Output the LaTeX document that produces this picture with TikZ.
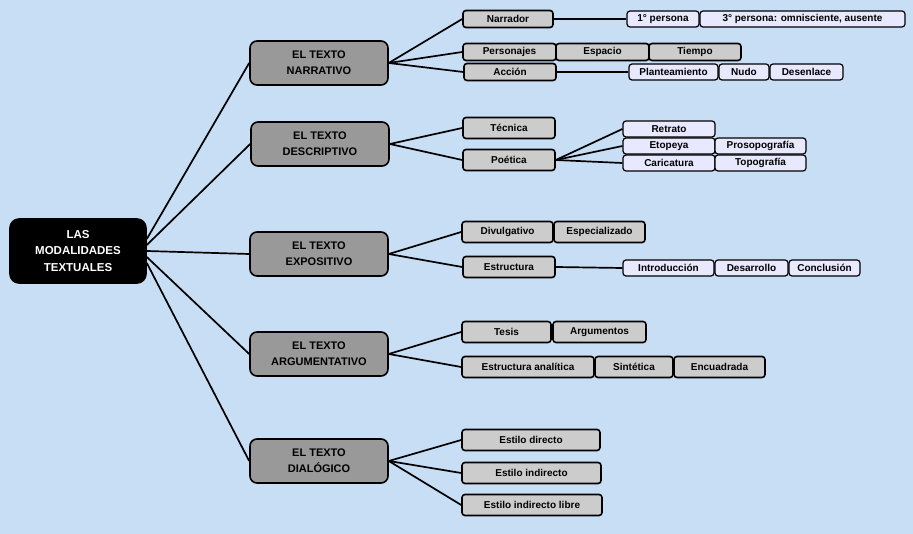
\documentclass[tikz,border=0pt]{standalone}
\usepackage{fontspec}
\setmainfont{Liberation Sans}
\definecolor{bgc}{RGB}{200,222,245}
\definecolor{lav}{RGB}{232,232,255}
\begin{document}
\begin{tikzpicture}[x=1pt,y=-1pt,
 base/.style={draw=black,line width=1.6pt,rounded corners=3pt,inner sep=0pt,font=\bfseries\fontsize{10}{10}\selectfont,text=black},
 g/.style={base,fill=gray!40,minimum height=17pt},
 gt/.style={base,fill=gray!40,minimum height=21pt},
 l/.style={base,fill=lav,minimum height=16pt,line width=1.2pt},
 t1/.style={base,fill=gray!80!white,minimum width=138pt,minimum height=44pt,rounded corners=7pt,align=center,font=\bfseries\fontsize{11}{16}\selectfont},
 ln/.style={line width=1.7pt}]
\fill[bgc] (0,0) rectangle (913,534);
\useasboundingbox (0,0) rectangle (913,534);
\node[base,fill=black,text=white,rounded corners=9pt,minimum width=136pt,minimum height=64pt,align=center,font=\bfseries\fontsize{11.5}{16.5}\selectfont] (root) at (78,251) {LAS\\MODALIDADES\\TEXTUALES};
\node[t1] (nar) at (319,63) {EL TEXTO\\NARRATIVO};
\node[t1] (des) at (320,144) {EL TEXTO\\DESCRIPTIVO};
\node[t1] (exp) at (319,254) {EL TEXTO\\EXPOSITIVO};
\node[t1] (arg) at (319,354) {EL TEXTO\\ARGUMENTATIVO};
\node[t1] (dia) at (319,461) {EL TEXTO\\DIALÓGICO};
\foreach \n/\y in {nar/-12,des/-6,exp/0,arg/6,dia/12}
  \draw[ln] (root.east) ++(0,\y) -- (\n.west);
% narrativo
\node[g,minimum width=90pt] (narr) at (508,19) {Narrador};
\node[g,minimum width=93pt] (pers) at (509.5,52) {Personajes};
\node[g,minimum width=93pt] (esp) at (602.5,52) {Espacio};
\node[g,minimum width=92pt] (tie) at (695,52) {Tiempo};
\node[g,minimum width=92pt] (acc) at (510,72) {Acción};
\node[l,minimum width=72pt] (p1) at (663,19) {1° persona};
\node[l,minimum width=205pt] (p3) at (802.5,19) {3° persona: omnisciente, ausente};
\node[l,minimum width=89pt] (pla) at (673.5,72) {Planteamiento};
\node[l,minimum width=50pt] (nud) at (744,72) {Nudo};
\node[l,minimum width=73pt] (dsn) at (806.5,72) {Desenlace};
\draw[ln] (nar.east) -- (narr.west);
\draw[ln] (nar.east) -- (pers.west);
\draw[ln] (nar.east) -- (acc.west);
\draw[ln] (narr.east) -- (p1.west);
\draw[ln] (acc.east) -- (pla.west);
% descriptivo
\node[gt,minimum width=92pt] (tec) at (509,128) {Técnica};
\node[gt,minimum width=92pt] (poe) at (509,160) {Poética};
\node[l,minimum width=92pt] (ret) at (669,129) {Retrato};
\node[l,minimum width=92pt] (eto) at (669,146) {Etopeya};
\node[l,minimum width=91pt] (pro) at (760.5,146) {Prosopografía};
\node[l,minimum width=92pt] (car) at (669,163) {Caricatura};
\node[l,minimum width=91pt] (top) at (760.5,163) {Topografía};
\draw[ln] (des.east) -- (tec.west);
\draw[ln] (des.east) -- (poe.west);
\draw[ln] (poe.east) -- (ret.west);
\draw[ln] (poe.east) -- (eto.west);
\draw[ln] (poe.east) -- (car.west);
% expositivo
\node[gt,minimum width=91pt] (div) at (507.5,232) {Divulgativo};
\node[gt,minimum width=91pt] (espz) at (599.5,232) {Especializado};
\node[gt,minimum width=92pt] (est) at (509,267) {Estructura};
\node[l,minimum width=91pt] (int) at (668.5,268) {Introducción};
\node[l,minimum width=73pt] (dsr) at (751.5,268) {Desarrollo};
\node[l,minimum width=71pt] (con) at (824.5,268) {Conclusión};
\draw[ln] (exp.east) -- (div.west);
\draw[ln] (exp.east) -- (est.west);
\draw[ln] (est.east) -- (int.west);
% argumentativo
\node[gt,minimum width=89pt] (tes) at (506.5,332) {Tesis};
\node[gt,minimum width=93pt] (argu) at (599.5,332) {Argumentos};
\node[gt,minimum width=132pt] (ea) at (528,367) {Estructura analítica};
\node[gt,minimum width=78pt] (sin) at (634,367) {Sintética};
\node[gt,minimum width=91pt] (enc) at (719.5,367) {Encuadrada};
\draw[ln] (arg.east) -- (tes.west);
\draw[ln] (arg.east) -- (ea.west);
% dialogico
\node[gt,minimum width=138pt] (ed) at (531,440) {Estilo directo};
\node[gt,minimum width=139pt] (ei) at (531.5,473) {Estilo indirecto};
\node[gt,minimum width=140pt] (eil) at (532,505) {Estilo indirecto libre};
\draw[ln] (dia.east) -- (ed.west);
\draw[ln] (dia.east) -- (ei.west);
\draw[ln] (dia.east) -- (eil.west);
\end{tikzpicture}
\end{document}
